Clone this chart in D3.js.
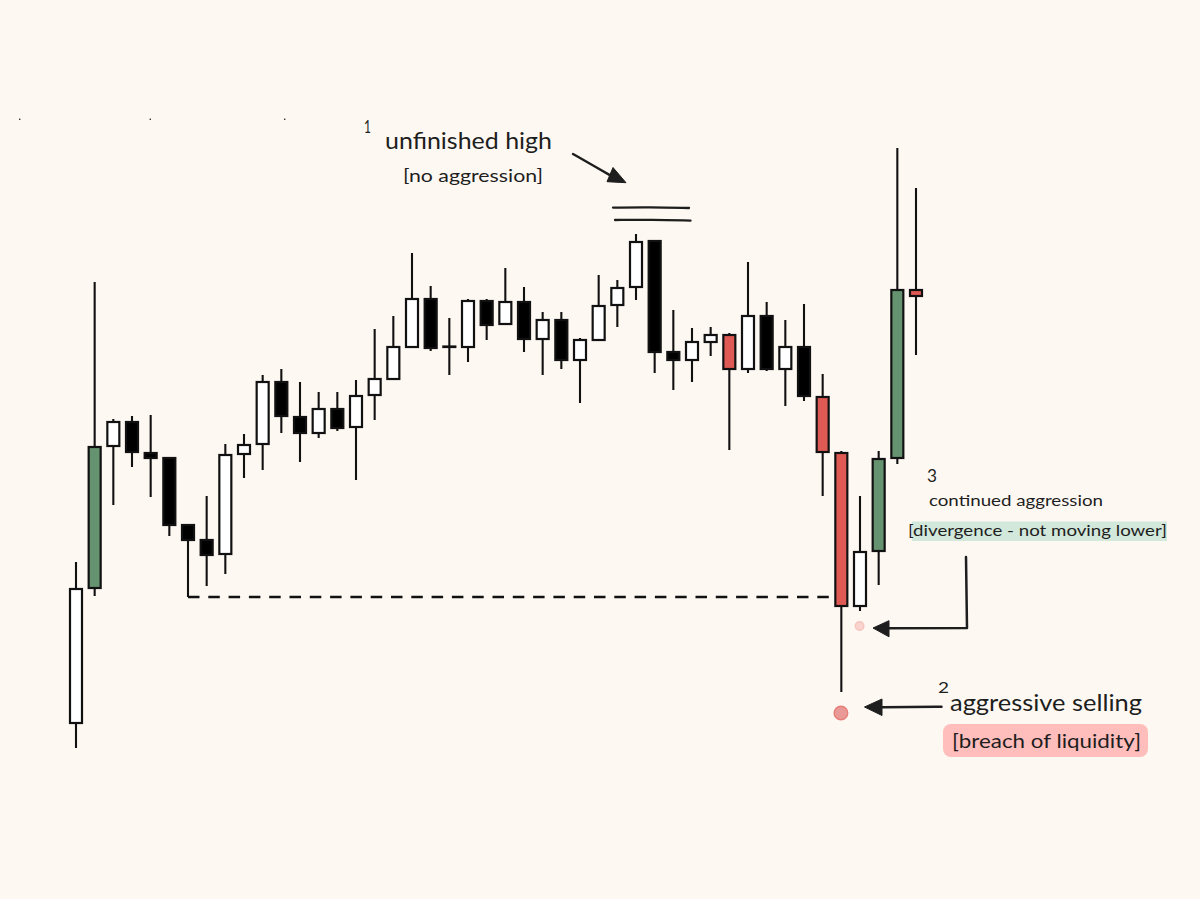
<!DOCTYPE html>
<html>
<head>
<meta charset="utf-8">
<script src="https://cdn.jsdelivr.net/npm/d3@7"></script>
<style>
  html, body { margin: 0; padding: 0; background: #fdf8f2; }
  svg { display: block; }
  text { font-family: "Lato", sans-serif; fill: #1e1e1e; }
</style>
</head>
<body>
<svg width="1200" height="899"></svg>
<script>
// candle values (price units are arbitrary)
var opens  = [3.7, 17.2, 31.4, 33.8, 30.7, 30.2, 23.5, 22.0, 20.6, 30.6, 31.6, 37.8, 34.3, 32.7, 35.1, 33.3, 36.5, 38.1, 41.3, 46.1, 41.35, 41.3, 45.9, 43.6, 45.8, 42.1, 44.0, 40.0, 42.0, 45.5, 47.3, 51.9, 40.8, 40.0, 41.8, 42.5, 39.1, 44.4, 39.1, 41.3, 36.3, 30.7, 15.4, 20.9, 30.2, 47.0];
var highs  = [19.8, 47.8, 34.1, 34.4, 34.5, 30.2, 23.5, 26.4, 31.6, 32.6, 38.5, 39.1, 37.8, 36.8, 36.8, 38.0, 43.1, 44.4, 50.7, 47.4, 44.2, 46.1, 46.1, 49.2, 47.3, 44.8, 44.8, 42.2, 48.5, 48.0, 52.6, 51.9, 45.0, 43.2, 43.3, 42.7, 49.8, 45.8, 44.0, 45.6, 38.6, 30.9, 26.4, 30.9, 61.2, 57.2];
var lows   = [1.2, 16.4, 25.5, 29.3, 26.3, 22.4, 16.3, 17.4, 18.6, 28.2, 29.0, 32.7, 29.8, 32.2, 32.9, 28.0, 34.0, 38.1, 41.3, 40.9, 38.5, 39.8, 42.0, 43.6, 40.8, 38.5, 39.1, 35.7, 42.0, 43.3, 46.0, 38.7, 37.0, 37.8, 40.4, 31.0, 38.7, 38.9, 35.4, 35.9, 26.4, 6.8, 14.9, 17.5, 29.6, 40.5];
var closes = [17.1, 31.3, 33.8, 30.8, 30.2, 23.5, 22.0, 20.5, 30.5, 31.5, 37.8, 34.4, 32.7, 35.1, 33.2, 36.4, 38.1, 41.3, 46.1, 41.2, 41.3, 45.9, 43.5, 45.8, 42.1, 44.0, 40.0, 42.0, 45.4, 47.2, 51.8, 40.8, 40.0, 41.8, 42.5, 39.1, 44.4, 39.1, 41.3, 36.4, 30.8, 15.4, 20.8, 30.1, 47.0, 46.4];
// candles that carry a colour instead of plain white / black
var emphasised = [1, 35, 40, 41, 43, 44, 45];

// liquidity level: from the low of candle 6 to the close of candle 41
var liquidityLevel = 16.3;
var liquidityFrom = 6;
var liquidityTo = 41;
var sweepPoints = [[41, 4.7, 'big'], [42, 13.4, 'small']];
var specks = [[19.7, 119.3], [150.3, 119.3], [284.7, 119.3]];

var svg = d3.select('svg');
var bg = '#fdf8f2', ink = '#1e1e1e';

var xScale = d3.scalePoint()
    .domain(d3.range(opens.length))
    .range([76, 916]);

var yScale = d3.scaleLinear()
    .domain([0, 76])
    .range([760, 0]);

var candles = d3.range(opens.length).map(function(i) {
    return {i: i, o: opens[i], h: highs[i], l: lows[i], c: closes[i], special: emphasised.indexOf(i) >= 0};
});

function bodyFill(d) {
    var up = d.c >= d.o;
    if (d.special) return up ? '#65926f' : '#e05a55';
    return up ? '#ffffff' : '#000000';
}

// highlight boxes go under the text
svg.append('rect').attr('x', 912).attr('y', 521.5).attr('width', 255).attr('height', 19.5)
    .attr('fill', '#d2e8da');
svg.append('rect').attr('x', 943).attr('y', 724).attr('width', 205).attr('height', 33)
    .attr('rx', 8).attr('fill', '#ffbdbb');

svg.selectAll('.speck')
    .data(specks)
    .enter()
    .append('rect')
    .attr('class', 'speck')
    .attr('x', function(d) { return d[0] - 0.7; })
    .attr('y', function(d) { return d[1] - 0.7; })
    .attr('width', 1.4)
    .attr('height', 1.4)
    .attr('fill', '#333');

// dashed line sits behind the candles
svg.append('line')
    .attr('x1', xScale(liquidityFrom))
    .attr('x2', xScale(liquidityTo))
    .attr('y1', yScale(liquidityLevel))
    .attr('y2', yScale(liquidityLevel))
    .attr('stroke', '#111')
    .attr('stroke-width', 2.7)
    .attr('stroke-dasharray', '11.5 8.8');

var candle = svg.selectAll('.candle')
    .data(candles)
    .enter()
    .append('g')
    .attr('class', 'candle')
    .attr('transform', function(d) { return 'translate(' + xScale(d.i) + ',0)'; });

candle.append('line')
    .attr('y1', function(d) { return yScale(d.h); })
    .attr('y2', function(d) { return yScale(d.l); })
    .attr('stroke', '#111')
    .attr('stroke-width', 2.1);

candle.append('rect')
    .attr('x', -6)
    .attr('width', 12)
    .attr('y', function(d) { return yScale(Math.max(d.o, d.c)); })
    .attr('height', function(d) { return Math.abs(yScale(d.o) - yScale(d.c)); })
    .attr('fill', bodyFill)
    .attr('stroke', '#111')
    .attr('stroke-width', 2.2);

svg.selectAll('.sweep')
    .data(sweepPoints)
    .enter()
    .append('circle')
    .attr('class', 'sweep')
    .attr('cx', function(d) { return xScale(d[0]) - 0.4; })
    .attr('cy', function(d) { return yScale(d[1]); })
    .attr('r', function(d) { return d[2] === 'big' ? 6.8 : 4.3; })
    .attr('fill', function(d) { return d[2] === 'big' ? '#e99a96' : '#f9d3cd'; })
    .attr('stroke', function(d) { return d[2] === 'big' ? '#e67f7a' : '#f7c4bd'; })
    .attr('stroke-width', 1.4);

// hand drawn bits
var sketch = d3.line().curve(d3.curveBasis);

function stroke(points, width) {
    svg.append('path')
        .attr('d', sketch(points))
        .attr('fill', 'none')
        .attr('stroke', ink)
        .attr('stroke-width', width)
        .attr('stroke-linecap', 'round')
        .attr('stroke-linejoin', 'round');
}

function head(points) {
    svg.append('path')
        .attr('d', 'M' + points.join('L') + 'Z')
        .attr('fill', ink)
        .attr('stroke', ink)
        .attr('stroke-width', 1)
        .attr('stroke-linejoin', 'round');
}

stroke([[613, 207.6], [650, 207.2], [689, 208]], 2.3);
stroke([[615, 220], [652, 219.6], [690.5, 220.6]], 2.3);

stroke([[573, 154], [592, 165], [615, 178]], 2.4);
head([[626, 182.7], [613, 167.5], [607, 181.7]]);

svg.append('path')
    .attr('d', d3.line()([[966, 557], [967, 628], [886, 628.3]]))
    .attr('fill', 'none')
    .attr('stroke', ink)
    .attr('stroke-width', 2.5)
    .attr('stroke-linecap', 'round')
    .attr('stroke-linejoin', 'round');
head([[873, 628], [889, 620.7], [889, 636.8]]);

stroke([[941.5, 706.8], [910, 707], [878, 707.2]], 2.5);
head([[864.5, 707], [882, 699], [882, 715.5]]);

// annotation text, widths forced to what the reference measures
var notes = [
    {t: '1', x: 364, y: 133, size: 18, w: 7},
    {t: 'unfinished high', x: 385, y: 149, size: 24, w: 167},
    {t: '[no aggression]', x: 403, y: 182, size: 17.5, w: 140},
    {t: '3', x: 927, y: 482, size: 17, w: 10},
    {t: 'continued aggression', x: 929, y: 506, size: 15.5, w: 174},
    {t: '[divergence - not moving lower]', x: 908, y: 536, size: 16, w: 259},
    {t: '2', x: 938, y: 693, size: 15.5, w: 11},
    {t: 'aggressive selling', x: 950, y: 711, size: 24, w: 192},
    {t: '[breach of liquidity]', x: 952, y: 748, size: 20, w: 189}
];

svg.selectAll('.note')
    .data(notes)
    .enter()
    .append('text')
    .attr('class', 'note')
    .attr('x', function(d) { return d.x; })
    .attr('y', function(d) { return d.y; })
    .attr('font-size', function(d) { return d.size; })
    .attr('textLength', function(d) { return d.w; })
    .attr('lengthAdjust', 'spacingAndGlyphs')
    .text(function(d) { return d.t; });
</script>
</body>
</html>
